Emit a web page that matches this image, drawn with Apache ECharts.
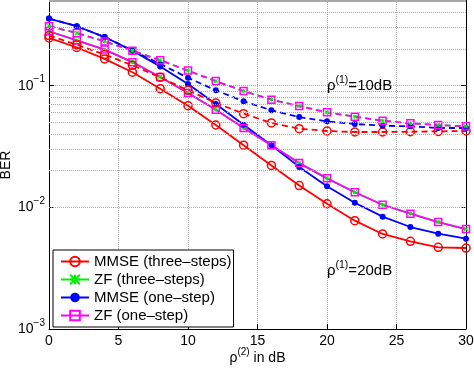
<!DOCTYPE html>
<html>
<head>
<meta charset="utf-8">
<script src="https://cdn.jsdelivr.net/npm/echarts@6/dist/echarts.min.js"></script>
<style>html,body{margin:0;padding:0;background:#fff;}#c{width:474px;height:368px;}</style>
</head>
<body>
<div id="c"></div>
<script>
// ---- data ----
const snr = [0, 2, 4, 6, 8, 10, 12, 14, 16, 18, 20, 22, 24, 26, 28, 30];
// rho(1) = 20 dB (solid)
const mmse3_20 = [0.247, 0.206, 0.166, 0.129, 0.0945, 0.0685, 0.0475, 0.0324, 0.0221, 0.0151, 0.0107, 0.00777, 0.00604, 0.00526, 0.00469, 0.00463];
const zf3_20   = [0.28, 0.236, 0.198, 0.156, 0.118, 0.0871, 0.0635, 0.0449, 0.0324, 0.0231, 0.0173, 0.0133, 0.0105, 0.00887, 0.00757, 0.00663];
const mmse1_20 = [0.356, 0.308, 0.251, 0.194, 0.144, 0.103, 0.0707, 0.0477, 0.0324, 0.0215, 0.0149, 0.0109, 0.00838, 0.00689, 0.00608, 0.00553];
const zf1_20   = [0.28, 0.236, 0.198, 0.156, 0.118, 0.0871, 0.0635, 0.0449, 0.0324, 0.0231, 0.0173, 0.0133, 0.0105, 0.00887, 0.00757, 0.00663];
// rho(1) = 10 dB (dashed)
const mmse3_10 = [0.258, 0.217, 0.180, 0.147, 0.117, 0.0916, 0.0721, 0.0589, 0.0494, 0.0443, 0.0424, 0.0416, 0.0416, 0.0418, 0.0421, 0.0424];
const zf3_10   = [0.308, 0.271, 0.231, 0.194, 0.162, 0.133, 0.109, 0.0903, 0.0767, 0.0680, 0.0604, 0.0556, 0.0515, 0.0490, 0.0475, 0.0463];
const mmse1_10 = [0.356, 0.308, 0.251, 0.194, 0.151, 0.116, 0.0916, 0.0744, 0.0627, 0.0552, 0.0509, 0.0484, 0.0469, 0.0463, 0.0449, 0.0449];
const zf1_10   = [0.308, 0.271, 0.231, 0.194, 0.162, 0.133, 0.109, 0.0903, 0.0767, 0.0680, 0.0604, 0.0556, 0.0515, 0.0490, 0.0475, 0.0463];
const legendNames = ['MMSE (three\u2013steps)', 'ZF (three\u2013steps)', 'MMSE (one\u2013step)', 'ZF (one\u2013step)'];
const xTicks = [0, 5, 10, 15, 20, 25, 30];
const decades = [0.001, 0.01, 0.1];

const FONT = 'Liberation Sans, Arial, Helvetica, sans-serif';
const pair = (ys) => snr.map((x, i) => [x, ys[i]]);
const minorVals = [];
decades.forEach(d => { for (let k = 2; k <= 9; k++) minorVals.push(+(d * k).toPrecision(3)); });

const styles = [
  { color: '#ff0000', symbol: 'circle', size: 8, fill: 'rgba(255,255,255,0)', bw: 1.5 },
  { color: '#00ee00', symbol: 'path://M0,0L10,10M10,0L0,10M5,0L5,10M0,5L10,5', size: 4, fill: '#00ee00', bw: 1 },
  { color: '#0000ff', symbol: 'circle', size: 6, fill: '#0000ff', bw: 0 },
  { color: '#ff00ff', symbol: 'rect', size: 7, fill: 'rgba(255,255,255,0)', bw: 1.5 }
];
function mk(idx, data, dashed) {
  const s = styles[idx];
  return {
    type: 'line', name: legendNames[idx], data: pair(data),
    symbol: s.symbol, symbolSize: s.size, showSymbol: true,
    lineStyle: { color: s.color, width: 1.8, type: dashed ? [6, 4] : 'solid' },
    itemStyle: { color: s.fill, borderColor: s.color, borderWidth: s.bw },
    emphasis: { disabled: true }, animation: false, z: 3
  };
}
const rich = {
  b: { fontSize: 14, lineHeight: 22, fontFamily: FONT, color: '#000' },
  s: { fontSize: 10, lineHeight: 10, verticalAlign: 'top', fontFamily: FONT, color: '#000' }
};
const supRich = {
  b: { fontSize: 15, lineHeight: 22, fontFamily: FONT, color: '#000' },
  s: { fontSize: 10.5, lineHeight: 10, verticalAlign: 'top', fontFamily: FONT, color: '#000' }
};

const chart = echarts.init(document.getElementById('c'), null, { renderer: 'canvas' });
chart.setOption({
  backgroundColor: '#fff',
  animation: false,
  grid: { left: 49, right: 8, top: -36, bottom: 39, containLabel: false, outerBoundsMode: 'none' },
  xAxis: {
    type: 'value', min: 0, max: 30, interval: 5,
    axisLine: { show: true, lineStyle: { color: '#000', width: 1 } },
    axisTick: { show: true, inside: true, length: 5, lineStyle: { color: '#000' } },
    axisLabel: { margin: 5, fontSize: 14, color: '#000', fontFamily: FONT,
      formatter: v => xTicks.includes(v) ? String(v) : '' },
    splitLine: { show: true, lineStyle: { type: 'dotted', color: '#aaa', width: 1 } },
    name: '{b|\u03c1}{s|(2)}{b| in dB}', nameLocation: 'middle', nameGap: 18, nameMoveOverlap: false,
    nameTextStyle: { rich: rich }
  },
  yAxis: [{
    type: 'log', min: 0.001, max: 1, logBase: 10,
    axisLine: { show: true, onZero: false, lineStyle: { color: '#000', width: 1 } },
    axisTick: { show: true, inside: true, length: 5, lineStyle: { color: '#000' } },
    axisLabel: { margin: 4, color: '#000', fontFamily: FONT,
      formatter: v => { const e = Math.round(Math.log10(v)); if (e >= 0) return ''; return '{b|10}{s|\u2212' + Math.abs(e) + '}'; },
      rich: rich },
    splitLine: { show: true, lineStyle: { type: 'dotted', color: '#aaa', width: 1 } }
  }, {
    type: 'log', min: 0.001, max: 1, logBase: 10, position: 'right',
    axisLine: { show: true, onZero: false, lineStyle: { color: '#000', width: 1 } },
    axisTick: { show: true, inside: true, length: 5, lineStyle: { color: '#000' } },
    axisLabel: { show: false }, splitLine: { show: false }
  }],
  legend: {
    data: legendNames, orient: 'vertical', left: 53, top: 250,
    backgroundColor: '#fff', borderColor: '#000', borderWidth: 1,
    padding: [4, 2, 4, 7], itemGap: 3, itemWidth: 28, itemHeight: 12,
    textStyle: { fontSize: 15, lineHeight: 15, color: '#000', fontFamily: FONT },
    selectedMode: false
  },
  graphic: [
    { type: 'rect', left: 49, top: 0, shape: { width: 417, height: 2 }, style: { fill: '#a8a8a8' }, z: 100 },
    { type: 'text', x: 6, y: 165, rotation: Math.PI / 2,
      style: { text: 'BER', fontSize: 14, fontFamily: FONT, fill: '#000', align: 'center', verticalAlign: 'middle' }, z: 100 },
    { type: 'text', left: 327, top: 75, style: { text: '{b|\u03c1}{s|(1)}{b|=10dB}', rich: supRich }, z: 100 },
    { type: 'text', left: 327, top: 260, style: { text: '{b|\u03c1}{s|(1)}{b|=20dB}', rich: supRich }, z: 100 }
  ],
  series: [
    { type: 'line', name: '_minor', data: [], silent: true, z: 1,
      markLine: { silent: true, symbol: 'none', label: { show: false }, animation: false,
        lineStyle: { type: 'dotted', color: '#aaa', width: 1 },
        emphasis: { disabled: true },
        data: minorVals.map(v => ({ yAxis: v })) } },
    mk(0, mmse3_20, false),
    mk(1, zf3_20, false),
    mk(2, mmse1_20, false),
    mk(3, zf1_20, false),
    mk(0, mmse3_10, true),
    mk(2, mmse1_10, true),
    mk(1, zf3_10, true),
    mk(3, zf1_10, true)
  ]
});
</script>
</body>
</html>
